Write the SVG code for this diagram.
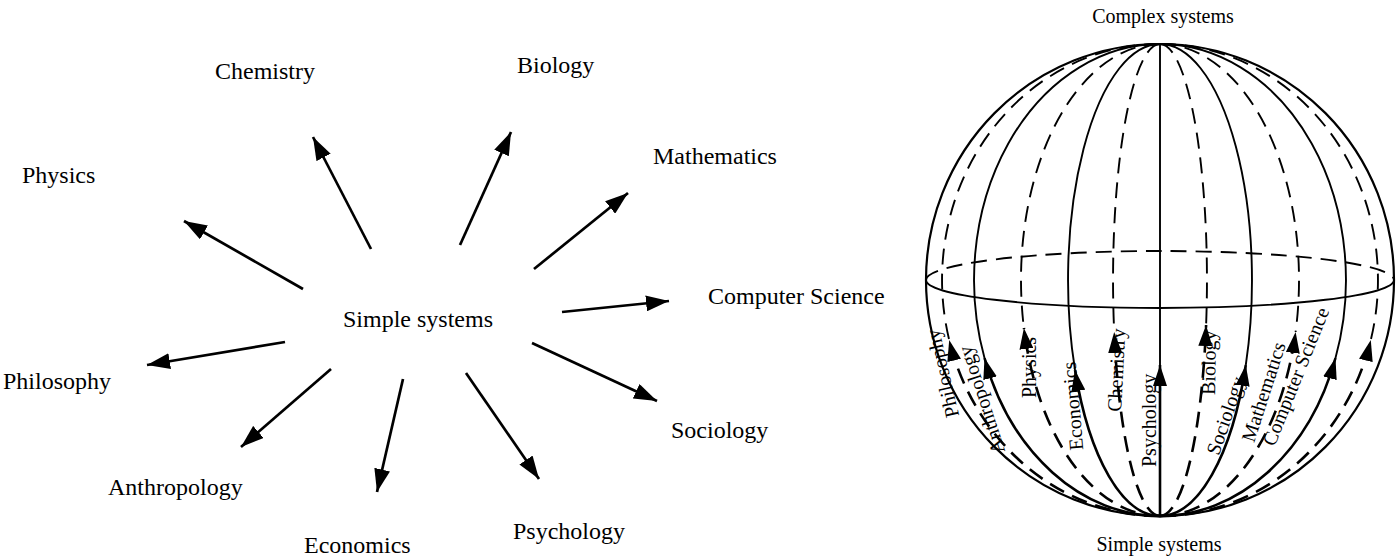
<svg xmlns="http://www.w3.org/2000/svg" width="1400" height="560" viewBox="0 0 1400 560">
<style>
text{font-family:"Liberation Serif","Times New Roman",serif;fill:#000}
.lbl{font-size:24px}
.sl{font-size:20px}
.arr{stroke:#000;stroke-width:2.7;fill:none;marker-end:url(#ah)}
.thin{stroke:#000;stroke-width:1.9;fill:none}
.dash{stroke-dasharray:16 9}
.thick{stroke:#000;stroke-width:2.6;fill:none;marker-end:url(#sh)}
</style>
<defs>
<marker id="ah" markerUnits="userSpaceOnUse" markerWidth="23" markerHeight="16" refX="23" refY="8" orient="auto"><path d="M0,0 L23,8 L0,16 z" fill="#000"/></marker>
<marker id="sh" markerUnits="userSpaceOnUse" markerWidth="21" markerHeight="14" refX="21" refY="7" orient="auto"><path d="M0,0 L21,7 L0,14 z" fill="#000"/></marker>
</defs>
<rect width="1400" height="560" fill="#fff"/>

<g id="simple-systems"><text class="lbl" x="343" y="327">Simple systems</text></g>
<g id="chemistry"><text class="lbl" x="215" y="79">Chemistry</text></g>
<g id="biology"><text class="lbl" x="517" y="73">Biology</text></g>
<g id="physics"><text class="lbl" x="22" y="183">Physics</text></g>
<g id="mathematics"><text class="lbl" x="653" y="164">Mathematics</text></g>
<g id="computer-science"><text class="lbl" x="708" y="304">Computer Science</text></g>
<g id="philosophy"><text class="lbl" x="3" y="389">Philosophy</text></g>
<g id="sociology"><text class="lbl" x="671" y="438">Sociology</text></g>
<g id="anthropology"><text class="lbl" x="108" y="495">Anthropology</text></g>
<g id="psychology"><text class="lbl" x="513" y="539">Psychology</text></g>
<g id="economics"><text class="lbl" x="304" y="553">Economics</text></g>

<g id="connectors">
<line class="arr" x1="303" y1="289" x2="184" y2="221"/>
<line class="arr" x1="371" y1="249" x2="313" y2="137"/>
<line class="arr" x1="460" y1="245" x2="511" y2="132"/>
<line class="arr" x1="534" y1="269" x2="628" y2="193"/>
<line class="arr" x1="562" y1="312" x2="669" y2="301"/>
<line class="arr" x1="532" y1="343" x2="657" y2="401"/>
<line class="arr" x1="466" y1="373" x2="539" y2="479"/>
<line class="arr" x1="403" y1="379" x2="377" y2="492"/>
<line class="arr" x1="331" y1="369" x2="241" y2="447"/>
<line class="arr" x1="285" y1="342" x2="147" y2="365"/>
</g>

<g id="sphere">
<ellipse class="thin" cx="1160" cy="280" rx="234" ry="236" style="stroke-width:2.2"/>
<path class="thin dash" d="M926,280 A234,29 0 0 1 1394,280"/>
<path class="thin" d="M926,280 A234,28 0 0 0 1394,280"/>
<path class="thin dash" d="M1160,44 A218,236 0 0 0 949.2,340"/>
<path class="thin" d="M1160,44 A186,236 0 0 0 984.5,358"/>
<path class="thin dash" d="M1160,44 A139,236 0 0 0 1023.9,328"/>
<path class="thin" d="M1160,44 A92,236 0 0 0 1075,370"/>
<path class="thin dash" d="M1160,44 A47,236 0 0 0 1114.2,332"/>
<path class="thin" d="M1160,44 L1160,365"/>
<path class="thin dash" d="M1160,44 A47,236 0 0 1 1206.1,325"/>
<path class="thin" d="M1160,44 A92,236 0 0 1 1245.8,365"/>
<path class="thin dash" d="M1160,44 A139,236 0 0 1 1295.6,332"/>
<path class="thin" d="M1160,44 A186,236 0 0 1 1335.5,358"/>
<path class="thin dash" d="M1160,44 A218,236 0 0 1 1370.8,340"/>
<path class="thick dash" d="M1160,516 A218,236 0 0 1 949.2,340"/>
<path class="thick" d="M1160,516 A186,236 0 0 1 984.5,358"/>
<path class="thick dash" d="M1160,516 A139,236 0 0 1 1023.9,328"/>
<path class="thick" d="M1160,516 A92,236 0 0 1 1075,370"/>
<path class="thick dash" d="M1160,516 A47,236 0 0 1 1114.2,332"/>
<path class="thick" d="M1160,516 L1160,365"/>
<path class="thick dash" d="M1160,516 A47,236 0 0 0 1206.1,325"/>
<path class="thick" d="M1160,516 A92,236 0 0 0 1245.8,365"/>
<path class="thick dash" d="M1160,516 A139,236 0 0 0 1295.6,332"/>
<path class="thick" d="M1160,516 A186,236 0 0 0 1335.5,358"/>
<path class="thick dash" d="M1160,516 A218,236 0 0 0 1370.8,340"/>
</g>

<g id="sphere-labels">
<text class="sl" x="1163" y="23" text-anchor="middle">Complex systems</text>
<text class="sl" x="1159" y="551" text-anchor="middle">Simple systems</text>
<text class="sl" text-anchor="middle" transform="translate(949,372) rotate(-103)">Philosophy</text>
<text class="sl" text-anchor="middle" transform="translate(988,398) rotate(-108)">Anthropology</text>
<text class="sl" transform="translate(1036,398) rotate(-90)">Physics</text>
<text class="sl" text-anchor="middle" transform="translate(1079.5,405.5) rotate(-95)">Economics</text>
<text class="sl" transform="translate(1121,412) rotate(-87)">Chemistry</text>
<text class="sl" transform="translate(1156,467) rotate(-90)">Psychology</text>
<text class="sl" transform="translate(1215,395) rotate(-89)">Biology</text>
<text class="sl" text-anchor="middle" transform="translate(1232,418) rotate(-71)">Sociology</text>
<text class="sl" text-anchor="middle" transform="translate(1270,394) rotate(-72)">Mathematics</text>
<text class="sl" text-anchor="middle" transform="translate(1302,379) rotate(-68)">Computer Science</text>
</g>
</svg>
